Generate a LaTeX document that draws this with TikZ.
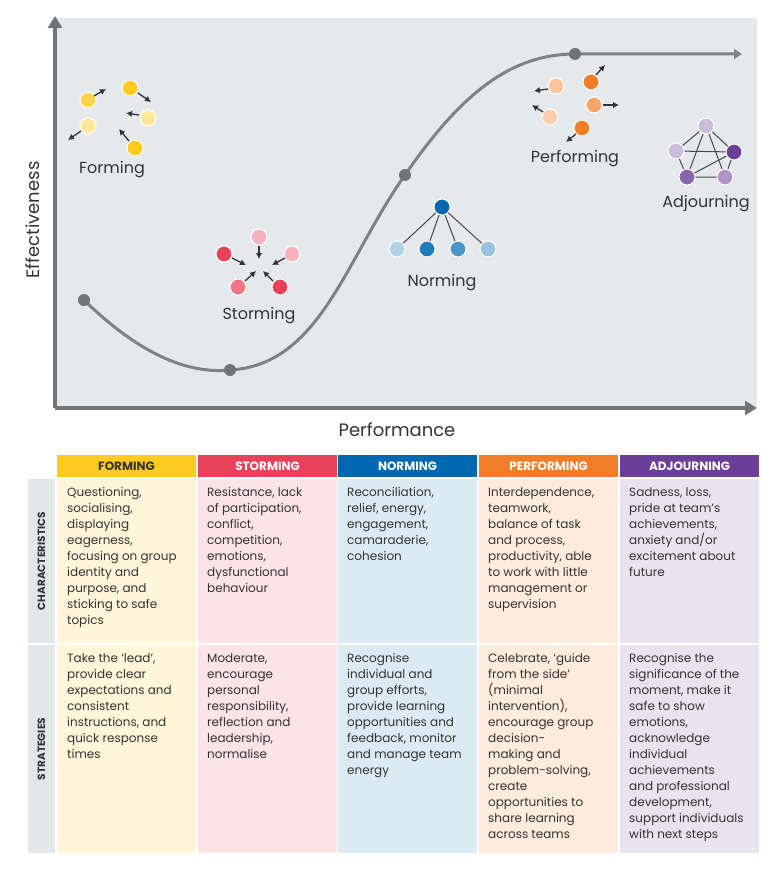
\documentclass[tikz,border=0pt]{standalone}
\usepackage{fontspec}
\setmainfont{Poppins}
\usetikzlibrary{arrows.meta}
\begin{document}
\begin{tikzpicture}[x=1pt,y=-1pt,
  dot/.style={circle,draw=white,line width=1pt,inner sep=0pt,minimum size=16pt},
  cdot/.style={circle,fill=axisc,inner sep=0pt,minimum size=12pt},
  arr/.style={-{Latex[length=6pt,width=6.5pt]},draw=txt,line width=1.3pt},
  lnk/.style={draw=txt!90,line width=1pt},
  lab/.style={font=\fontsize{16}{19}\selectfont,text=txt},
  hdr/.style={font=\bfseries\fontsize{12}{14}\selectfont,text=white},
  cell/.style={anchor=north west,align=left,font=\fontsize{12}{16}\selectfont,text=txt,inner sep=0pt},
  side/.style={rotate=90,font=\bfseries\fontsize{10.5}{12}\selectfont,text=txt}]
\definecolor{panel}{HTML}{E5E9EC}
\definecolor{axisc}{HTML}{6F7478}
\definecolor{txt}{HTML}{333333}
\definecolor{cy}{HTML}{FFCB1F}\definecolor{cr}{HTML}{E8415A}\definecolor{cb}{HTML}{0068B0}
\definecolor{co}{HTML}{F07E26}\definecolor{cp}{HTML}{6B3F98}
\definecolor{ly}{HTML}{FFF6DA}\definecolor{lr}{HTML}{FBE3E6}\definecolor{lb}{HTML}{DCEAF4}
\definecolor{lo}{HTML}{FDEBDC}\definecolor{lp}{HTML}{E9E2EF}\definecolor{lg}{HTML}{E3E7EA}
\useasboundingbox (0,0) rectangle (779,872);
\fill[white] (0,0) rectangle (779,872);
\fill[panel] (55,18) rectangle (757,408);
% axes
\coordinate (o) at (55,408); \coordinate (ytop) at (55,16); \coordinate (xend) at (757,408);
\draw[axisc,line width=3.5pt,-{Triangle[length=12pt,width=14pt]}] (o) -- (ytop);
\draw[axisc,line width=3.5pt,-{Triangle[length=12pt,width=14pt]}] (o) -- (xend);
\node[lab,rotate=90,font=\fontsize{18}{20}\selectfont] at (33,220) {Effectiveness};
\node[lab,font=\fontsize{18}{20}\selectfont] at (397,430) {Performance};
% curve
\coordinate (cend) at (742,54);
\draw[axisc!90,line width=3pt,-{Triangle[length=8pt,width=10pt]}] (84,300) .. controls (130,345) and (180,375) .. (230,370) .. controls (320,365) and (345,260) .. (405,175) .. controls (460,95) and (510,54) .. (575,54) -- (cend);
\foreach \p in {(84,300),(230,370),(405,175),(575,54)} \node[cdot] at \p {};
% Forming
\node[dot,fill=cy!80] (f1) at (88,100) {};
\node[dot,fill=cy] (f2) at (130,88) {};
\node[dot,fill=cy!45] (f3) at (148,118) {};
\node[dot,fill=cy!45] (f4) at (88,126) {};
\node[dot,fill=cy] (f5) at (135,148) {};
\draw[arr] (94,96) -- (106,89);
\draw[arr] (138,93) -- (151,102);
\draw[arr] (139,115) -- (126,113);
\draw[arr] (81,131) -- (68,140);
\draw[arr] (129,141) -- (119,129);
\node[lab] at (112,170) {Forming};
% Storming
\node[dot,fill=cr] at (224,254) {};
\node[dot,fill=cr!40] at (259,237) {};
\node[dot,fill=cr!40] at (292,254) {};
\node[dot,fill=cr!72] at (238,287) {};
\node[dot,fill=cr] at (280,287) {};
\draw[arr] (232,258) -- (246,265);
\draw[arr] (259,246) -- (259,259);
\draw[arr] (285,258) -- (272,265);
\draw[arr] (245,281) -- (256,271);
\draw[arr] (273,281) -- (263,271);
\node[lab] at (259,316) {Storming};
% Norming
\node[dot,fill=cb] (n0) at (442,207) {};
\node[dot,fill=cb!30] (n1) at (397,249) {};
\node[dot,fill=cb!88] (n2) at (427,249) {};
\node[dot,fill=cb!70] (n3) at (458,249) {};
\node[dot,fill=cb!40] (n4) at (488,249) {};
\foreach \n in {n1,n2,n3,n4} \draw[lnk] (n0) -- (\n);
\node[lab] at (442,283) {Norming};
% Performing
\node[dot,fill=co!45] at (556,86) {};
\node[dot,fill=co] at (591,82) {};
\node[dot,fill=co!70] at (594,105) {};
\node[dot,fill=co!38] at (550,117) {};
\node[dot,fill=co] at (582,128) {};
\draw[arr] (548,89) -- (534,91);
\draw[arr] (596,75) -- (605,65);
\draw[arr] (603,105) -- (619,105);
\draw[arr] (543,112) -- (532,105);
\draw[arr] (576,134) -- (566,142);
\node[lab] at (575,159) {Performing};
% Adjourning
\coordinate (at) at (706,126); \coordinate (al) at (676,151); \coordinate (ar) at (734,152);
\coordinate (abl) at (687,177); \coordinate (abr) at (725,177);
\draw[lnk] (at) -- (al) -- (abl) -- (abr) -- (ar) -- (at);
\draw[lnk] (al) -- (ar); \draw[lnk] (at) -- (abl); \draw[lnk] (at) -- (abr); \draw[lnk] (abl) -- (ar);
\node[dot,fill=cp!35] at (at) {};
\node[dot,fill=cp!35] at (al) {};
\node[dot,fill=cp] at (ar) {};
\node[dot,fill=cp!80] at (abl) {};
\node[dot,fill=cp!55] at (abr) {};
\node[lab] at (706,204) {Adjourning};
% table
\fill[lg] (28,479) rectangle (55,643);
\fill[lg] (28,645) rectangle (55,853);
\node[side] at (41.5,561) {CHARACTERISTICS};
\node[side] at (41.5,749) {STRATEGIES};
\foreach \x/\c/\l/\t/\tc in {57/cy/ly/FORMING/txt,198/cr/lr/STORMING/white,338/cb/lb/NORMING/white,479/co/lo/PERFORMING/white,620/cp/lp/ADJOURNING/white}{
  \fill[\c] (\x,455) rectangle (\x+139,477);
  \fill[\l] (\x,479) rectangle (\x+139,643);
  \fill[\l] (\x,645) rectangle (\x+139,853);
  \node[hdr,text=\tc] at (\x+69.5,466) {\t};
}
\node[cell] at (67,487) {Questioning,\\socialising,\\displaying\\eagerness,\\focusing on group\\identity and\\purpose, and\\sticking to safe\\topics};
\node[cell] at (207,487) {Resistance, lack\\of participation,\\conflict,\\competition,\\emotions,\\dysfunctional\\behaviour};
\node[cell] at (347,487) {Reconciliation,\\relief, energy,\\engagement,\\camaraderie,\\cohesion};
\node[cell] at (488,487) {Interdependence,\\teamwork,\\balance of task\\and process,\\productivity, able\\to work with little\\management or\\supervision};
\node[cell] at (629,487) {Sadness, loss,\\pride at team’s\\achievements,\\anxiety and/or\\excitement about\\future};
\node[cell] at (67,653) {Take the ‘lead’,\\provide clear\\expectations and\\consistent\\instructions, and\\quick response\\times};
\node[cell] at (207,653) {Moderate,\\encourage\\personal\\responsibility,\\reflection and\\leadership,\\normalise};
\node[cell] at (347,653) {Recognise\\individual and\\group efforts,\\provide learning\\opportunities and\\feedback, monitor\\and manage team\\energy};
\node[cell] at (488,653) {Celebrate, ‘guide\\from the side’\\(minimal\\intervention),\\encourage group\\decision-\\making and\\problem-solving,\\create\\opportunities to\\share learning\\across teams};
\node[cell] at (629,653) {Recognise the\\significance of the\\moment, make it\\safe to show\\emotions,\\acknowledge\\individual\\achievements\\and professional\\development,\\support individuals\\with next steps};
\end{tikzpicture}
\end{document}
